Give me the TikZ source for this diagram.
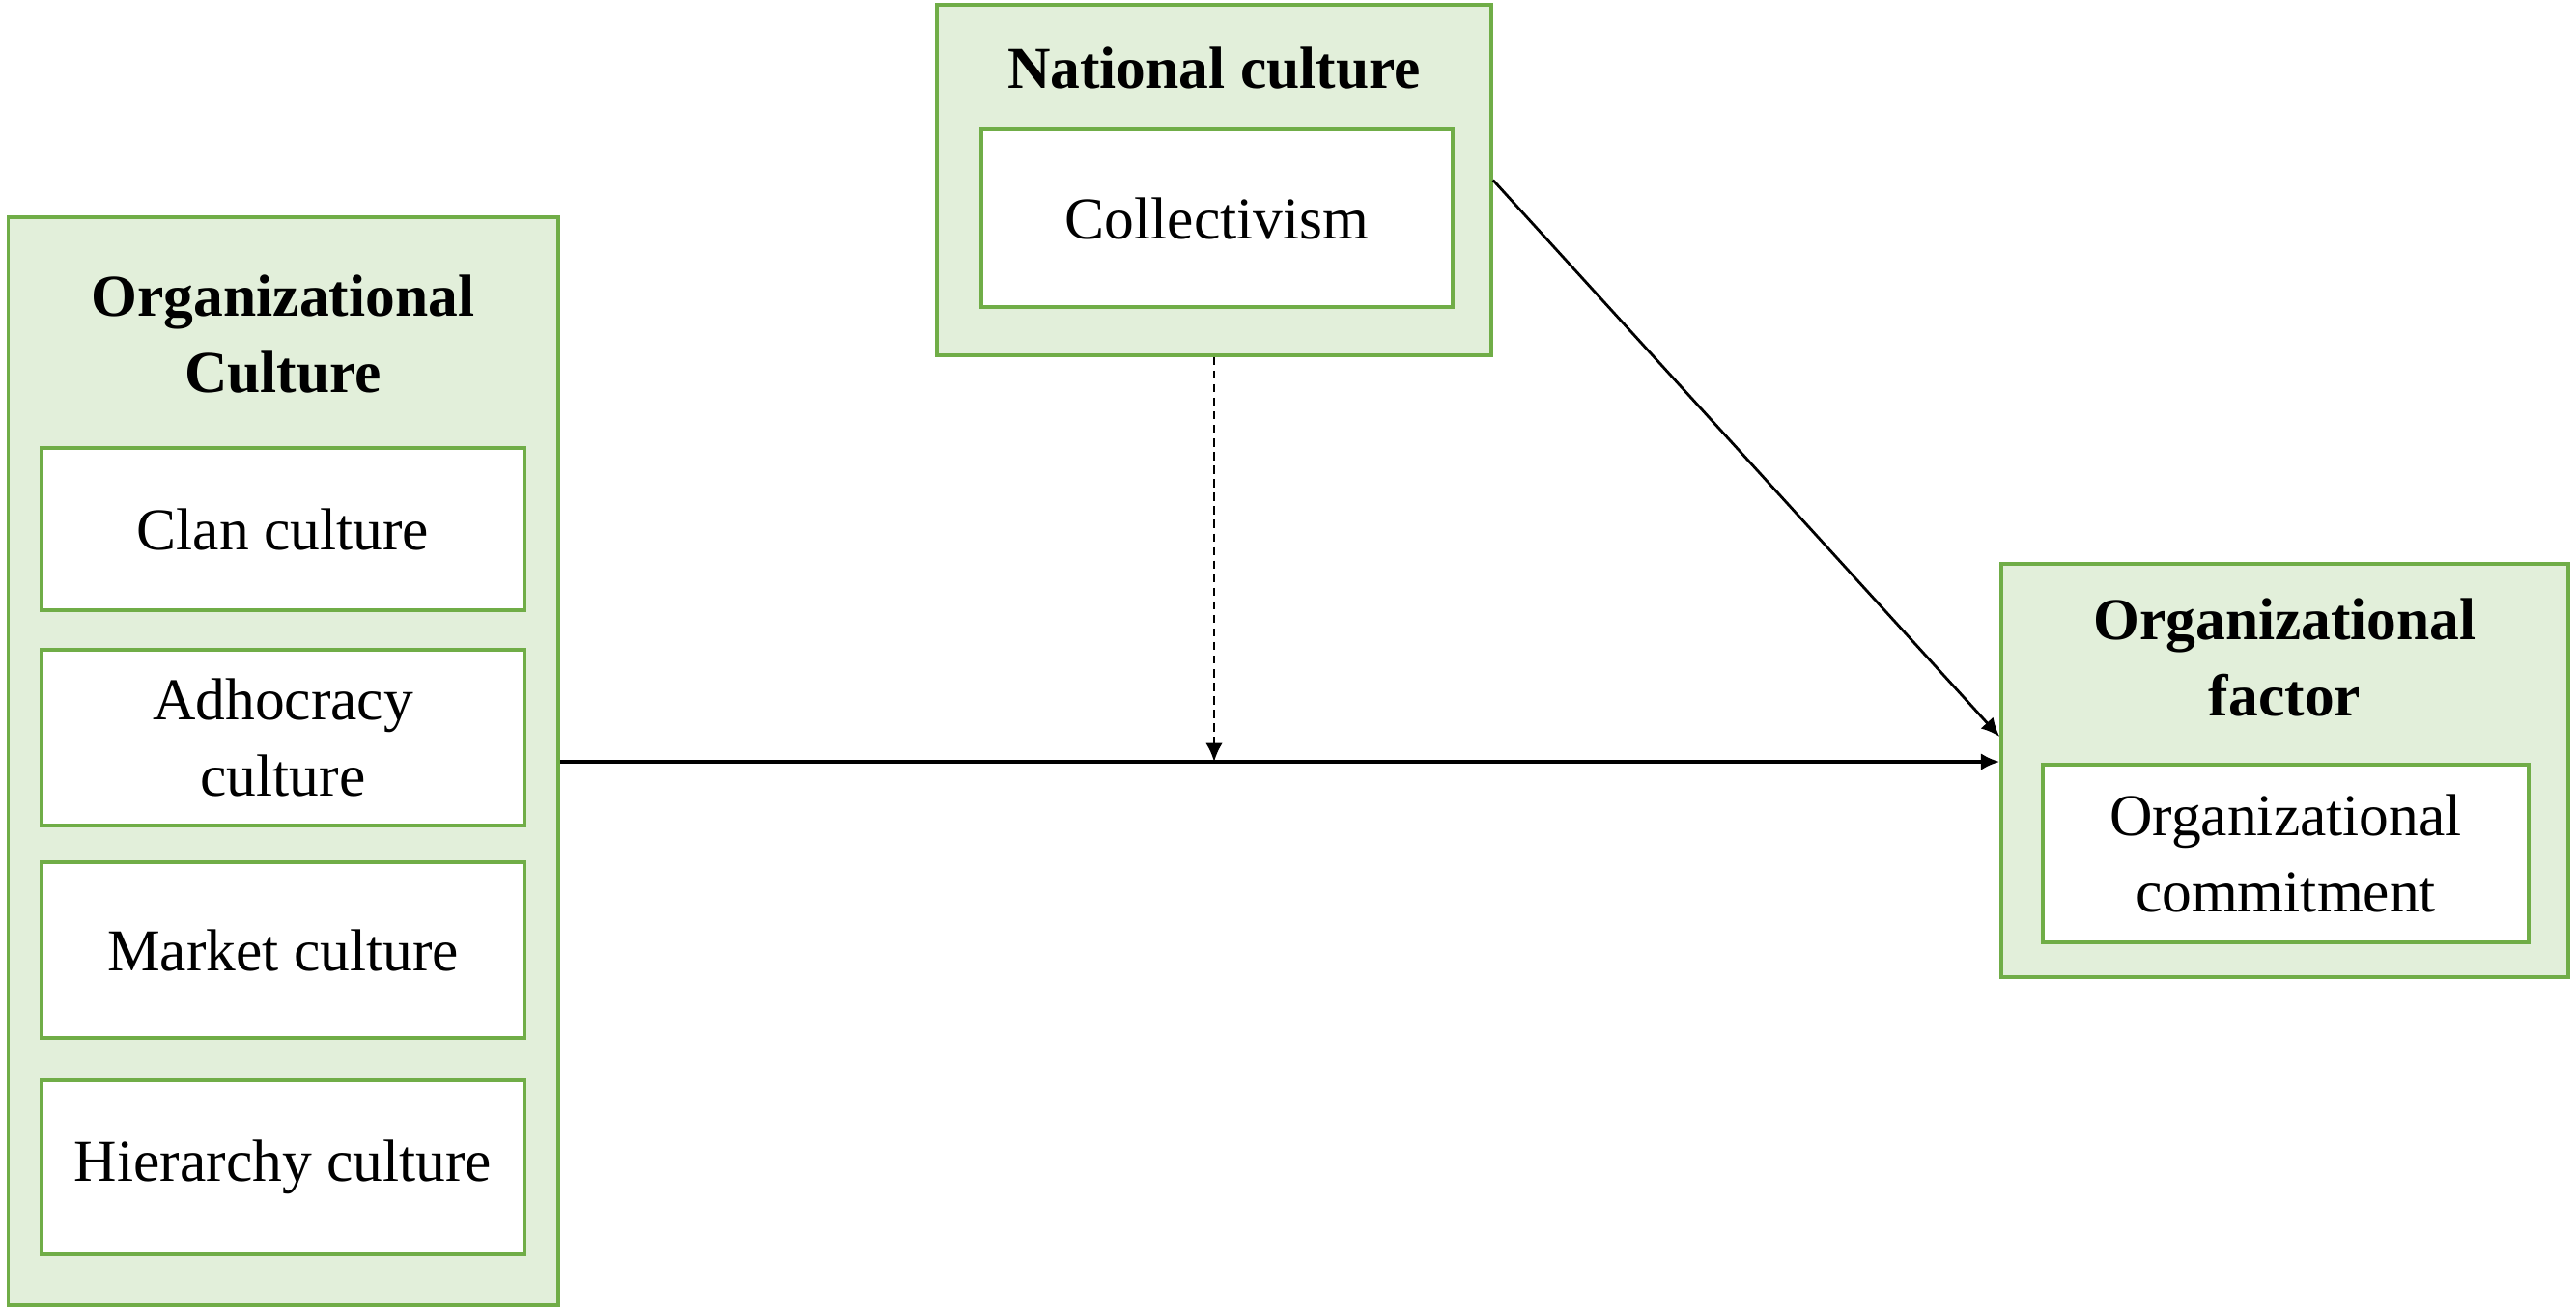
\documentclass[tikz,border=0pt]{standalone}
\usepackage{fontspec}
\setmainfont{Liberation Serif}
\usepackage{tikz}
\usetikzlibrary{arrows.meta}
\definecolor{boxgreen}{HTML}{70AD47}
\definecolor{boxfill}{HTML}{E2EFDA}

\begin{document}
\begin{tikzpicture}[>={Latex[length=5.5pt,width=5pt]},
        outer/.style={draw=boxgreen, fill=boxfill, line width=1pt, inner sep=0pt},
        inner/.style={draw=boxgreen, fill=white, line width=1pt, inner sep=0pt, align=center, font=\fontsize{17.5}{22.5}\selectfont},
        title/.style={align=center, font=\fontsize{17.5}{22.5}\selectfont\bfseries}]
            \useasboundingbox (0,0) rectangle (26.67,-13.62);
            \draw (2.9325, -7.885) node[outer, minimum width=5.695cm, minimum height=11.27cm](oc){};
            \draw (12.57, -1.865) node[outer, minimum width=5.74cm, minimum height=3.63cm](nc){};
            \draw (23.655, -7.98) node[outer, minimum width=5.87cm, minimum height=4.28cm](of){};
            \draw (2.93, -3.46) node[title](octitle){Organizational\\Culture};
            \draw (12.57, -0.71) node[title](nctitle){National culture};
            \draw (23.655, -6.81) node[title](oftitle){Organizational\\factor};
            \draw (2.93, -5.48) node[inner, minimum width=5cm, minimum height=1.68cm](clan){Clan culture};
            \draw (2.93, -7.64) node[inner, minimum width=5cm, minimum height=1.82cm](adhoc){Adhocracy\\culture};
            \draw (2.93, -9.84) node[inner, minimum width=5cm, minimum height=1.82cm](market){Market culture};
            \draw (2.93, -12.09) node[inner, minimum width=5cm, minimum height=1.8cm](hier){Hierarchy culture};
            \draw (12.6, -2.26) node[inner, minimum width=4.88cm, minimum height=1.84cm](coll){Collectivism};
            \draw (23.665, -8.84) node[inner, minimum width=5.03cm, minimum height=1.84cm](commit){Organizational\\commitment};
            \coordinate (mid) at (nc.south |- 0,-7.89);
            \coordinate (ocout) at (oc.east |- mid);
            \coordinate (ofin) at (of.west |- mid);
            \draw[->, line width=1pt] (ocout) -- (ofin);
            \draw[->, dashed, dash pattern=on 2.4pt off 1.6pt, line width=0.8pt] (nc.south) -- (mid);
            \draw[->, line width=0.8pt] (nc.east) -- ([yshift=3.5mm]of.west);
        \end{tikzpicture}
\end{document}
